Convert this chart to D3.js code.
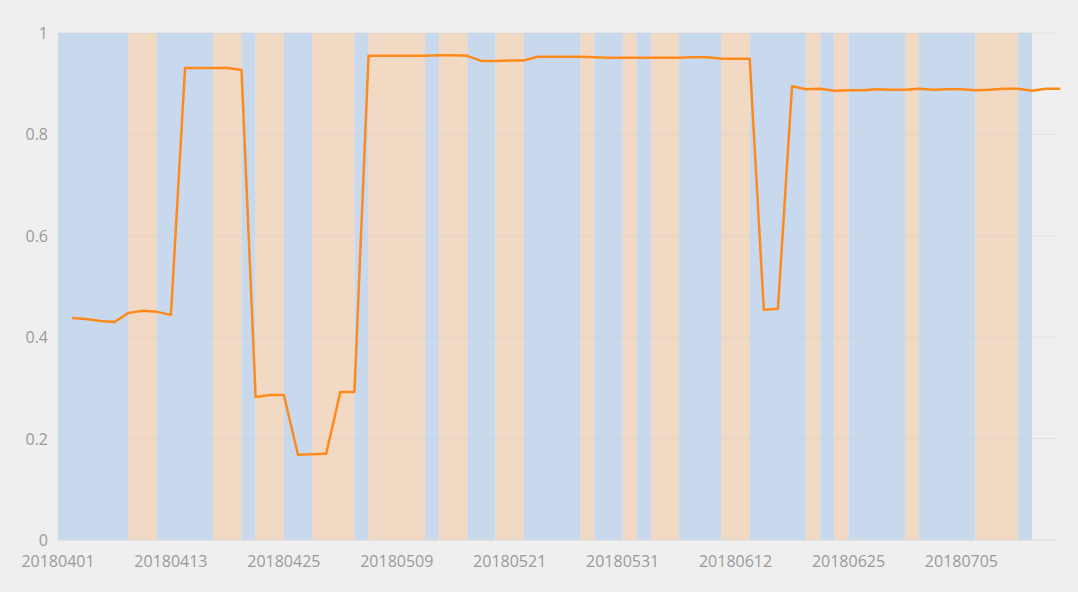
<!DOCTYPE html>
<html><head><meta charset="utf-8">
<script src="https://cdn.jsdelivr.net/npm/d3@7/dist/d3.min.js"></script>
<style>body{margin:0;background:#efefef;font-family:"Open Sans",sans-serif}</style>
</head><body><svg id="c" width="1078" height="592"></svg>
<script>
const dates=["20180401","20180402","20180403","20180404","20180409","20180410","20180411","20180412","20180413",
"20180416","20180417","20180418","20180419","20180420","20180423","20180424","20180425",
"20180426","20180427","20180502","20180503","20180504","20180507","20180508","20180509",
"20180510","20180511","20180514","20180515","20180516","20180517","20180518","20180521",
"20180522","20180523","20180524","20180525","20180528","20180529","20180530","20180531",
"20180601","20180604","20180605","20180606","20180607","20180608","20180611","20180612",
"20180613","20180614","20180615","20180619","20180620","20180621","20180622","20180625",
"20180626","20180627","20180628","20180629","20180702","20180703","20180704","20180705",
"20180706","20180709","20180710","20180711","20180712","20180713"];
const values=[0.438,0.436,0.432,0.430,0.448,0.452,0.450,0.444,0.931,0.931,0.931,0.931,0.927,0.282,0.286,0.286,0.168,0.169,0.170,0.292,0.292,
0.955,0.955,0.955,0.955,0.955,0.956,0.956,0.955,0.945,0.945,0.946,0.946,0.953,0.953,0.953,0.953,0.952,0.951,0.951,0.951,0.951,0.951,0.951,0.952,0.952,0.949,0.949,0.949,
0.454,0.456,0.895,0.889,0.890,0.886,0.887,0.887,0.889,0.888,0.888,0.890,0.888,0.889,0.889,0.887,0.888,0.890,0.890,0.886,0.890,0.890];
const bandStart=[0,5,7,11,13,14,16,18,21,22,26,27,29,31,33,37,38,40,41,42,44,47,49,53,54,55,56,60,61,65,68];
const bandEnd  =[5,7,11,13,14,16,18,21,22,26,27,29,31,33,37,38,40,41,42,44,47,49,53,54,55,56,60,61,65,68,69];
const bandKind =["b","o","b","o","b","o","b","o","b","o","b","o","b","o","b","o","b","o","b","o","b","o","b","o","b","o","b","o","b","o","b"];
const yTicks=[0,0.2,0.4,0.6,0.8,1];

const svg=d3.select("#c");
const x=d3.scaleLinear().domain([0,70.7]).range([58,1056]);
const y=d3.scaleLinear().domain([0,1]).range([540,33]);
const col={b:"#c8d9ee",o:"#f1d9c3"};
svg.selectAll("rect.band").data(bandStart).join("rect")
 .attr("x",(d)=>x(d)).attr("width",(d,i)=>x(bandEnd[i])-x(d))
 .attr("y",y(1)).attr("height",y(0)-y(1)).attr("fill",(d,i)=>col[bandKind[i]]);
svg.selectAll("line.g").data(yTicks).join("line")
 .attr("x1",58).attr("x2",1056).attr("y1",d=>y(d)).attr("y2",d=>y(d))
 .attr("stroke",d=>d===0?"#d8d8d8":"rgba(200,200,200,0.35)").attr("stroke-width",1);
svg.selectAll("text.y").data(yTicks).join("text")
 .attr("x",48).attr("y",d=>y(d)+6).attr("text-anchor","end")
 .attr("fill","#9a9a9a").attr("font-size",16).text(d=>d3.format("~g")(d));
const lbl=dates.map((d,i)=>i).filter(i=>i%8===0);
svg.selectAll("text.x").data(lbl).join("text")
 .attr("x",i=>x(i)).attr("y",567).attr("text-anchor","middle")
 .attr("fill","#9a9a9a").attr("font-size",16).text(i=>dates[i]);
svg.append("path").datum(values)
 .attr("d",d3.line().x((d,i)=>x(i+1)).y(d=>y(d)))
 .attr("fill","none").attr("stroke","#ff8a1c").attr("stroke-width",2.5).attr("stroke-linejoin","round");
</script></body></html>
